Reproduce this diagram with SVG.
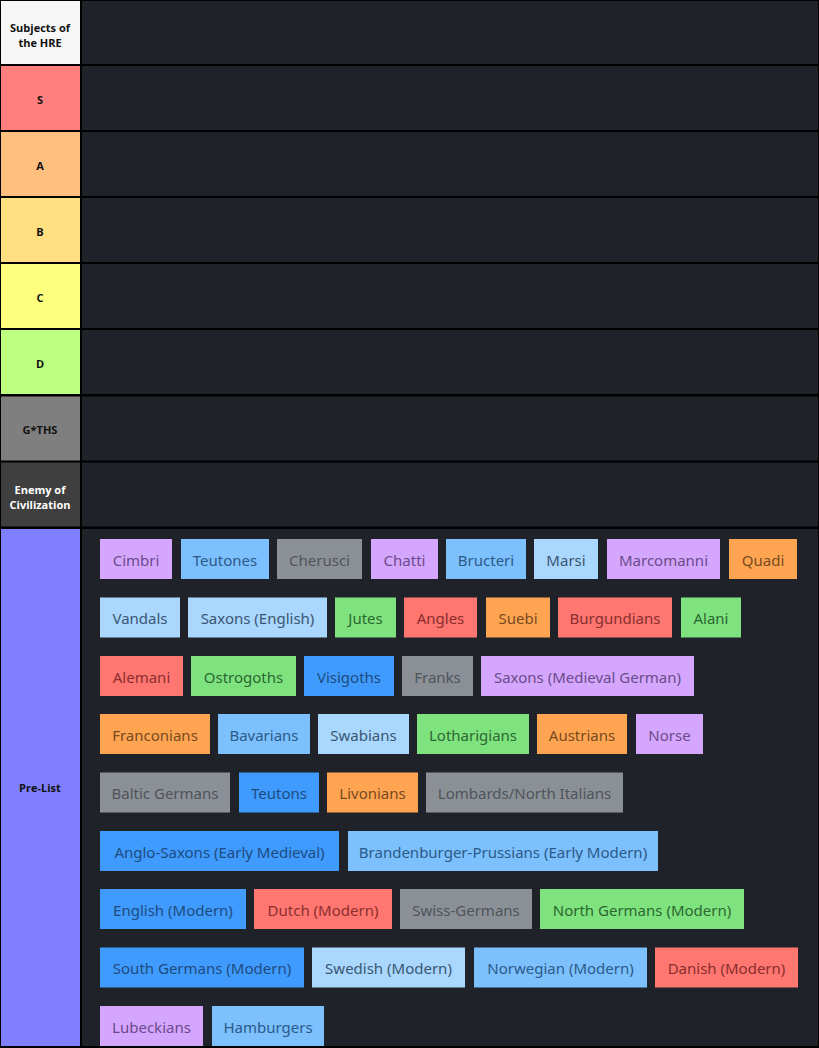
<svg xmlns="http://www.w3.org/2000/svg" width="819" height="1048" viewBox="0 0 819 1048">
<style>
.lbl{font-family:"Open Sans","Noto Sans","DejaVu Sans",sans-serif;font-weight:700;font-size:11px;text-anchor:middle;fill:#111}
.row{fill:#1f2229}
.t text{font-family:"Noto Sans","Open Sans",sans-serif;font-size:15px;text-anchor:middle}
.pu rect{fill:#d5a6fd}.pu text{fill:#6a4b8c}
.lb rect{fill:#7cc0fe}.lb text{fill:#2b5a88}
.vl rect{fill:#a9d7fe}.vl text{fill:#3a5672}
.gr rect{fill:#8b9097}.gr text{fill:#4f545b}
.or rect{fill:#ffa552}.or text{fill:#784a20}
.rd rect{fill:#ff7770}.rd text{fill:#8a2e2e}
.gn rect{fill:#7ee37f}.gn text{fill:#2b682f}
.bl rect{fill:#3f9bfe}.bl text{fill:#1e4b7e}
</style>
<rect x="0" y="0" width="819" height="1048" fill="#000"/>
<g id="tiers">
<g id="tier-hre"><rect x="1" y="1" width="79" height="63" fill="#f7f7f7"/><rect class="row" x="82" y="1" width="736" height="63"/><text class="lbl" x="40" y="31.5">Subjects of</text><text class="lbl" x="40" y="46.5">the HRE</text></g>
<g id="tier-s"><rect x="1" y="66" width="79" height="64" fill="#ff7f7f"/><rect class="row" x="82" y="66" width="736" height="64"/><text class="lbl" x="40" y="104">S</text></g>
<g id="tier-a"><rect x="1" y="132" width="79" height="64" fill="#ffbf7f"/><rect class="row" x="82" y="132" width="736" height="64"/><text class="lbl" x="40" y="170">A</text></g>
<g id="tier-b"><rect x="1" y="198" width="79" height="64" fill="#ffdf7f"/><rect class="row" x="82" y="198" width="736" height="64"/><text class="lbl" x="40" y="236">B</text></g>
<g id="tier-c"><rect x="1" y="264" width="79" height="64" fill="#ffff7f"/><rect class="row" x="82" y="264" width="736" height="64"/><text class="lbl" x="40" y="302">C</text></g>
<g id="tier-d"><rect x="1" y="330" width="79" height="64" fill="#bfff7f"/><rect class="row" x="82" y="330" width="736" height="64"/><text class="lbl" x="40" y="368">D</text></g>
<g id="tier-goths"><rect x="1" y="396.5" width="79" height="64" fill="#7f7f7f"/><rect class="row" x="82" y="396.5" width="736" height="64"/><text class="lbl" x="40" y="434">G*THS</text></g>
<g id="tier-enemy"><rect x="1" y="462.5" width="79" height="64" fill="#3f3f3f"/><rect class="row" x="82" y="462.5" width="736" height="64"/><text class="lbl" x="40" y="493.5" style="fill:#fff">Enemy of</text><text class="lbl" x="40" y="508.5" style="fill:#fff">Civilization</text></g>
<g id="tier-prelist"><rect x="1" y="529" width="79" height="517" fill="#7f7fff"/><rect class="row" x="82" y="529" width="736" height="517"/><text class="lbl" x="40" y="792">Pre-List</text></g>
</g>
<g id="items">
<g id="i-cimbri" class="t pu"><rect x="100" y="539" width="72" height="40"/><text x="136" y="565.5">Cimbri</text></g>
<g id="i-teutones" class="t lb"><rect x="181" y="539" width="88" height="40"/><text x="225" y="565.5">Teutones</text></g>
<g id="i-cherusci" class="t gr"><rect x="277" y="539" width="85" height="40"/><text x="319.5" y="565.5">Cherusci</text></g>
<g id="i-chatti" class="t pu"><rect x="371" y="539" width="67" height="40"/><text x="404.5" y="565.5">Chatti</text></g>
<g id="i-bructeri" class="t lb"><rect x="446" y="539" width="80" height="40"/><text x="486" y="565.5">Bructeri</text></g>
<g id="i-marsi" class="t vl"><rect x="534" y="539" width="64" height="40"/><text x="566" y="565.5">Marsi</text></g>
<g id="i-marcomanni" class="t pu"><rect x="607" y="539" width="113" height="40"/><text x="663.5" y="565.5">Marcomanni</text></g>
<g id="i-quadi" class="t or"><rect x="729" y="539" width="68" height="40"/><text x="763" y="565.5">Quadi</text></g>

<g id="i-vandals" class="t vl"><rect x="100" y="597.5" width="80" height="40"/><text x="140" y="624">Vandals</text></g>
<g id="i-saxons-english" class="t vl"><rect x="188" y="597.5" width="139" height="40"/><text x="257.5" y="624">Saxons (English)</text></g>
<g id="i-jutes" class="t gn"><rect x="335" y="597.5" width="61" height="40"/><text x="365.5" y="624">Jutes</text></g>
<g id="i-angles" class="t rd"><rect x="404" y="597.5" width="73" height="40"/><text x="440.5" y="624">Angles</text></g>
<g id="i-suebi" class="t or"><rect x="486" y="597.5" width="64" height="40"/><text x="518" y="624">Suebi</text></g>
<g id="i-burgundians" class="t rd"><rect x="558" y="597.5" width="114" height="40"/><text x="615" y="624">Burgundians</text></g>
<g id="i-alani" class="t gn"><rect x="681" y="597.5" width="60" height="40"/><text x="711" y="624">Alani</text></g>

<g id="i-alemani" class="t rd"><rect x="100" y="656" width="83" height="40"/><text x="141.5" y="682.5">Alemani</text></g>
<g id="i-ostrogoths" class="t gn"><rect x="191" y="656" width="105" height="40"/><text x="243.5" y="682.5">Ostrogoths</text></g>
<g id="i-visigoths" class="t bl"><rect x="304" y="656" width="90" height="40"/><text x="349" y="682.5">Visigoths</text></g>
<g id="i-franks" class="t gr"><rect x="402" y="656" width="71" height="40"/><text x="437.5" y="682.5">Franks</text></g>
<g id="i-saxons-medieval" class="t pu"><rect x="481" y="656" width="213" height="40"/><text x="587.5" y="682.5">Saxons (Medieval German)</text></g>

<g id="i-franconians" class="t or"><rect x="100" y="714" width="110" height="40"/><text x="155" y="740.5">Franconians</text></g>
<g id="i-bavarians" class="t lb"><rect x="218" y="714" width="92" height="40"/><text x="264" y="740.5">Bavarians</text></g>
<g id="i-swabians" class="t vl"><rect x="318" y="714" width="91" height="40"/><text x="363.5" y="740.5">Swabians</text></g>
<g id="i-lotharigians" class="t gn"><rect x="417" y="714" width="112" height="40"/><text x="473" y="740.5">Lotharigians</text></g>
<g id="i-austrians" class="t or"><rect x="537" y="714" width="90" height="40"/><text x="582" y="740.5">Austrians</text></g>
<g id="i-norse" class="t pu"><rect x="636" y="714" width="67" height="40"/><text x="669.5" y="740.5">Norse</text></g>

<g id="i-baltic-germans" class="t gr"><rect x="100" y="772.5" width="130" height="40"/><text x="165" y="799">Baltic Germans</text></g>
<g id="i-teutons" class="t bl"><rect x="239" y="772.5" width="80" height="40"/><text x="279" y="799">Teutons</text></g>
<g id="i-livonians" class="t or"><rect x="327" y="772.5" width="91" height="40"/><text x="372.5" y="799">Livonians</text></g>
<g id="i-lombards" class="t gr"><rect x="426" y="772.5" width="197" height="40"/><text x="524.5" y="799">Lombards/North Italians</text></g>

<g id="i-anglo-saxons" class="t bl"><rect x="100" y="831" width="239" height="40"/><text x="219.5" y="857.5">Anglo-Saxons (Early Medieval)</text></g>
<g id="i-brandenburger" class="t lb"><rect x="348" y="831" width="310" height="40"/><text x="503" y="857.5">Brandenburger-Prussians (Early Modern)</text></g>

<g id="i-english-modern" class="t bl"><rect x="100" y="889" width="146" height="40"/><text x="173" y="915.5">English (Modern)</text></g>
<g id="i-dutch-modern" class="t rd"><rect x="254" y="889" width="138" height="40"/><text x="323" y="915.5">Dutch (Modern)</text></g>
<g id="i-swiss-germans" class="t gr"><rect x="400" y="889" width="132" height="40"/><text x="466" y="915.5">Swiss-Germans</text></g>
<g id="i-north-germans" class="t gn"><rect x="540" y="889" width="204" height="40"/><text x="642" y="915.5">North Germans (Modern)</text></g>

<g id="i-south-germans" class="t bl"><rect x="100" y="947.5" width="204" height="40"/><text x="202" y="974">South Germans (Modern)</text></g>
<g id="i-swedish" class="t vl"><rect x="312" y="947.5" width="153" height="40"/><text x="388.5" y="974">Swedish (Modern)</text></g>
<g id="i-norwegian" class="t lb"><rect x="474" y="947.5" width="173" height="40"/><text x="560.5" y="974">Norwegian (Modern)</text></g>
<g id="i-danish" class="t rd"><rect x="655" y="947.5" width="143" height="40"/><text x="726.5" y="974">Danish (Modern)</text></g>

<g id="i-lubeckians" class="t pu"><rect x="100" y="1006" width="103" height="40"/><text x="151.5" y="1032.5">Lubeckians</text></g>
<g id="i-hamburgers" class="t lb"><rect x="212" y="1006" width="112" height="40"/><text x="268" y="1032.5">Hamburgers</text></g>
</g>
</svg>
